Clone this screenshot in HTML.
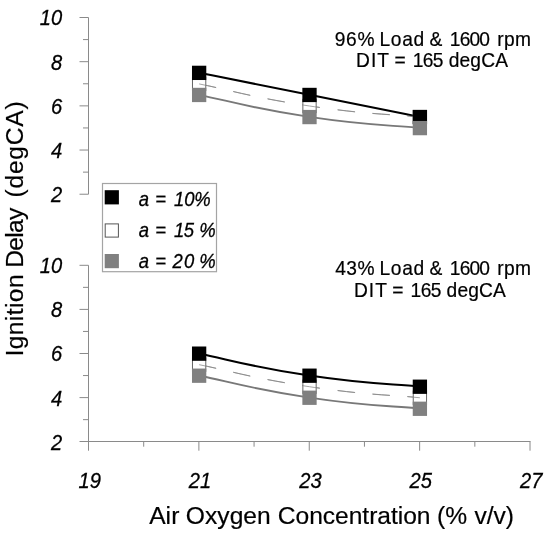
<!DOCTYPE html>
<html><head><meta charset="utf-8"><title>Ignition Delay Chart</title>
<style>html,body{margin:0;padding:0;background:#fff}svg{display:block}</style>
</head><body>
<svg width="550" height="536" viewBox="0 0 550 536">
<rect width="550" height="536" fill="#fff"/>
<g stroke="#8a8a8a" stroke-width="1" fill="none">
<line x1="88.5" y1="17.50" x2="88.5" y2="194.22"/>
<line x1="79.5" y1="194.22" x2="88.5" y2="194.22"/>
<line x1="83.0" y1="172.13" x2="88.5" y2="172.13"/>
<line x1="79.5" y1="150.04" x2="88.5" y2="150.04"/>
<line x1="83.0" y1="127.95" x2="88.5" y2="127.95"/>
<line x1="79.5" y1="105.86" x2="88.5" y2="105.86"/>
<line x1="83.0" y1="83.77" x2="88.5" y2="83.77"/>
<line x1="79.5" y1="61.68" x2="88.5" y2="61.68"/>
<line x1="83.0" y1="39.59" x2="88.5" y2="39.59"/>
<line x1="79.5" y1="17.50" x2="88.5" y2="17.50"/>
<line x1="88.5" y1="265.30" x2="88.5" y2="441.50"/>
<line x1="83.0" y1="419.65" x2="88.5" y2="419.65"/>
<line x1="79.5" y1="397.60" x2="88.5" y2="397.60"/>
<line x1="83.0" y1="375.55" x2="88.5" y2="375.55"/>
<line x1="79.5" y1="353.50" x2="88.5" y2="353.50"/>
<line x1="83.0" y1="331.45" x2="88.5" y2="331.45"/>
<line x1="79.5" y1="309.40" x2="88.5" y2="309.40"/>
<line x1="83.0" y1="287.35" x2="88.5" y2="287.35"/>
<line x1="79.5" y1="265.30" x2="88.5" y2="265.30"/>
<line x1="79.5" y1="441.50" x2="530.52" y2="441.50"/>
<line x1="88.50" y1="441.50" x2="88.50" y2="450.70"/>
<line x1="143.69" y1="441.50" x2="143.69" y2="446.70"/>
<line x1="198.88" y1="441.50" x2="198.88" y2="450.70"/>
<line x1="254.07" y1="441.50" x2="254.07" y2="446.70"/>
<line x1="309.26" y1="441.50" x2="309.26" y2="450.70"/>
<line x1="364.45" y1="441.50" x2="364.45" y2="446.70"/>
<line x1="419.64" y1="441.50" x2="419.64" y2="450.70"/>
<line x1="474.83" y1="441.50" x2="474.83" y2="446.70"/>
<line x1="530.02" y1="441.50" x2="530.02" y2="450.70"/>
</g>
<path d="M198.88,83.77 C228.31,89.66 250.39,97.02 309.26,105.86 C368.13,114.70 390.21,113.96 419.64,116.91" fill="none" stroke="#858585" stroke-width="0.75" stroke-dasharray="17.5 17.7"/>
<path d="M198.88,94.81 C228.31,100.71 250.39,108.07 309.26,116.91 C368.13,125.74 390.21,125.00 419.64,127.95" fill="none" stroke="#787878" stroke-width="1.9"/>
<path d="M198.88,72.72 C228.31,78.62 250.39,83.03 309.26,94.81 C368.13,106.60 390.21,111.01 419.64,116.91" fill="none" stroke="#000" stroke-width="2.05"/>
<rect x="192.48" y="77.27" width="13.3" height="13.3" fill="#fff" stroke="#666" stroke-width="1"/>
<rect x="302.86" y="99.36" width="13.3" height="13.3" fill="#fff" stroke="#666" stroke-width="1"/>
<rect x="413.24" y="110.41" width="13.3" height="13.3" fill="#fff" stroke="#666" stroke-width="1"/>
<path d="M199.13,83.92 C228.56,89.81 250.64,97.17 309.51,106.01 C368.38,114.85 390.46,114.11 419.89,117.06" fill="none" stroke="#858585" stroke-width="0.75" stroke-dasharray="17.5 17.7"/>
<rect x="191.98" y="65.72" width="14.3" height="14.3" fill="#000"/>
<rect x="302.36" y="87.81" width="14.3" height="14.3" fill="#000"/>
<rect x="412.74" y="109.91" width="14.3" height="14.3" fill="#000"/>
<rect x="191.98" y="87.81" width="14.3" height="14.3" fill="#808080"/>
<rect x="302.36" y="109.91" width="14.3" height="14.3" fill="#808080"/>
<rect x="412.74" y="120.95" width="14.3" height="14.3" fill="#808080"/>
<path d="M198.88,364.53 C228.31,370.41 250.39,377.76 309.26,386.58 C368.13,395.40 390.21,394.66 419.64,397.60" fill="none" stroke="#858585" stroke-width="0.75" stroke-dasharray="17.5 17.7"/>
<path d="M198.88,375.55 C228.31,381.43 250.39,388.78 309.26,397.60 C368.13,406.42 390.21,405.69 419.64,408.62" fill="none" stroke="#787878" stroke-width="1.9"/>
<path d="M198.88,353.50 C228.31,359.38 250.39,366.73 309.26,375.55 C368.13,384.37 390.21,383.64 419.64,386.58" fill="none" stroke="#000" stroke-width="2.05"/>
<rect x="192.48" y="358.03" width="13.3" height="13.3" fill="#fff" stroke="#666" stroke-width="1"/>
<rect x="302.86" y="380.08" width="13.3" height="13.3" fill="#fff" stroke="#666" stroke-width="1"/>
<rect x="413.24" y="391.10" width="13.3" height="13.3" fill="#fff" stroke="#666" stroke-width="1"/>
<path d="M199.13,364.68 C228.56,370.56 250.64,377.91 309.51,386.73 C368.38,395.55 390.46,394.81 419.89,397.75" fill="none" stroke="#858585" stroke-width="0.75" stroke-dasharray="17.5 17.7"/>
<rect x="191.98" y="346.50" width="14.3" height="14.3" fill="#000"/>
<rect x="302.36" y="368.55" width="14.3" height="14.3" fill="#000"/>
<rect x="412.74" y="379.58" width="14.3" height="14.3" fill="#000"/>
<rect x="191.98" y="368.55" width="14.3" height="14.3" fill="#808080"/>
<rect x="302.36" y="390.60" width="14.3" height="14.3" fill="#808080"/>
<rect x="412.74" y="401.62" width="14.3" height="14.3" fill="#808080"/>
<rect x="102.5" y="183.5" width="114" height="88.2" fill="#fff" stroke="#a4a4a4" stroke-width="1.2"/>
<rect x="104.7" y="190.2" width="14.2" height="14.2" fill="#000"/>
<rect x="105.2" y="223.9" width="13.2" height="13.2" fill="#fff" stroke="#555" stroke-width="1"/>
<rect x="104.7" y="254" width="14.2" height="14.2" fill="#808080"/>
<g font-family="'Liberation Sans', Arial, sans-serif" fill="#000" stroke="#000" stroke-width="0.3">
<text transform="scale(0.9,1)" y="206.20" font-size="20.5" xml:space="preserve" font-style="italic"><tspan x="154.25">a</tspan><tspan> </tspan><tspan x="172.44">=</tspan><tspan> </tspan><tspan x="193.38" letter-spacing="-0.112">10%</tspan></text>
<text transform="scale(0.9,1)" y="237.20" font-size="20.5" xml:space="preserve" font-style="italic"><tspan x="154.25">a</tspan><tspan> </tspan><tspan x="172.44">=</tspan><tspan> </tspan><tspan x="193.38" letter-spacing="-0.627">15</tspan><tspan> </tspan><tspan x="221.43">%</tspan></text>
<text transform="scale(0.9,1)" y="267.60" font-size="20.5" xml:space="preserve" font-style="italic"><tspan x="154.25">a</tspan><tspan> </tspan><tspan x="172.44">=</tspan><tspan> </tspan><tspan x="191.77" letter-spacing="1.185">20</tspan><tspan> </tspan><tspan x="221.43">%</tspan></text>
</g>
<g font-family="'Liberation Sans', Arial, sans-serif" font-style="italic" font-size="22.4" fill="#000" stroke="#000" stroke-width="0.3" transform="scale(0.9,1)">
<text x="69.22" y="202.22" text-anchor="end">2</text>
<text x="69.22" y="449.70" text-anchor="end">2</text>
<text x="69.22" y="158.04" text-anchor="end">4</text>
<text x="69.22" y="405.60" text-anchor="end">4</text>
<text x="69.22" y="113.86" text-anchor="end">6</text>
<text x="69.22" y="361.50" text-anchor="end">6</text>
<text x="69.22" y="69.68" text-anchor="end">8</text>
<text x="69.22" y="317.40" text-anchor="end">8</text>
<text x="69.22" y="25.50" text-anchor="end">10</text>
<text x="69.22" y="273.30" text-anchor="end">10</text>
<text x="99.67" y="488.4" text-anchor="middle">19</text>
<text x="222.31" y="488.4" text-anchor="middle">21</text>
<text x="344.96" y="488.4" text-anchor="middle">23</text>
<text x="467.60" y="488.4" text-anchor="middle">25</text>
<text x="590.24" y="488.4" text-anchor="middle">27</text>
</g>
<g font-family="'Liberation Sans', Arial, sans-serif" fill="#000" stroke="#000" stroke-width="0.2">
<text transform="scale(1.0,1)" y="523.70" font-size="24.6" xml:space="preserve"><tspan x="149.14" letter-spacing="0.079">Air</tspan><tspan> </tspan><tspan x="185.83" letter-spacing="0.032">Oxygen</tspan><tspan> </tspan><tspan x="277.77" letter-spacing="-0.031">Concentration</tspan><tspan> </tspan><tspan x="436.96" letter-spacing="0.025">(%</tspan><tspan> </tspan><tspan x="474.44" letter-spacing="-0.023">v/v)</tspan></text>
<text transform="translate(23.30,0) rotate(-90) scale(1.0,1)" y="0" font-size="24.6" xml:space="preserve"><tspan x="-356.58" letter-spacing="0.406">Ignition</tspan><tspan> </tspan><tspan x="-267.83" letter-spacing="-0.681">Delay</tspan><tspan> </tspan><tspan x="-197.54" letter-spacing="0.773">(degCA)</tspan></text>
<text transform="scale(0.97,1)" y="45.70" font-size="19.8" xml:space="preserve"><tspan x="345.14" letter-spacing="0.683">96%</tspan><tspan> </tspan><tspan x="391.25" letter-spacing="0.687">Load</tspan><tspan> </tspan><tspan x="442.78">&amp;</tspan><tspan> </tspan><tspan x="463.67" letter-spacing="-0.833">1600</tspan><tspan> </tspan><tspan x="512.73" letter-spacing="0.317">rpm</tspan></text>
<text transform="scale(0.97,1)" y="67.50" font-size="19.8" xml:space="preserve"><tspan x="367.13" letter-spacing="1.028">DIT</tspan><tspan> </tspan><tspan x="406.60">=</tspan><tspan> </tspan><tspan x="425.42" letter-spacing="-0.627">165</tspan><tspan> </tspan><tspan x="462.56" letter-spacing="0.165">degCA</tspan></text>
<text transform="scale(0.97,1)" y="275.40" font-size="19.8" xml:space="preserve"><tspan x="345.64" letter-spacing="0.435">43%</tspan><tspan> </tspan><tspan x="391.25" letter-spacing="0.687">Load</tspan><tspan> </tspan><tspan x="442.78">&amp;</tspan><tspan> </tspan><tspan x="463.67" letter-spacing="-0.833">1600</tspan><tspan> </tspan><tspan x="512.73" letter-spacing="0.317">rpm</tspan></text>
<text transform="scale(0.97,1)" y="297.20" font-size="19.8" xml:space="preserve"><tspan x="364.96" letter-spacing="1.028">DIT</tspan><tspan> </tspan><tspan x="404.44">=</tspan><tspan> </tspan><tspan x="423.26" letter-spacing="-0.627">165</tspan><tspan> </tspan><tspan x="460.40" letter-spacing="0.165">degCA</tspan></text>
</g>
</svg>
</body></html>
